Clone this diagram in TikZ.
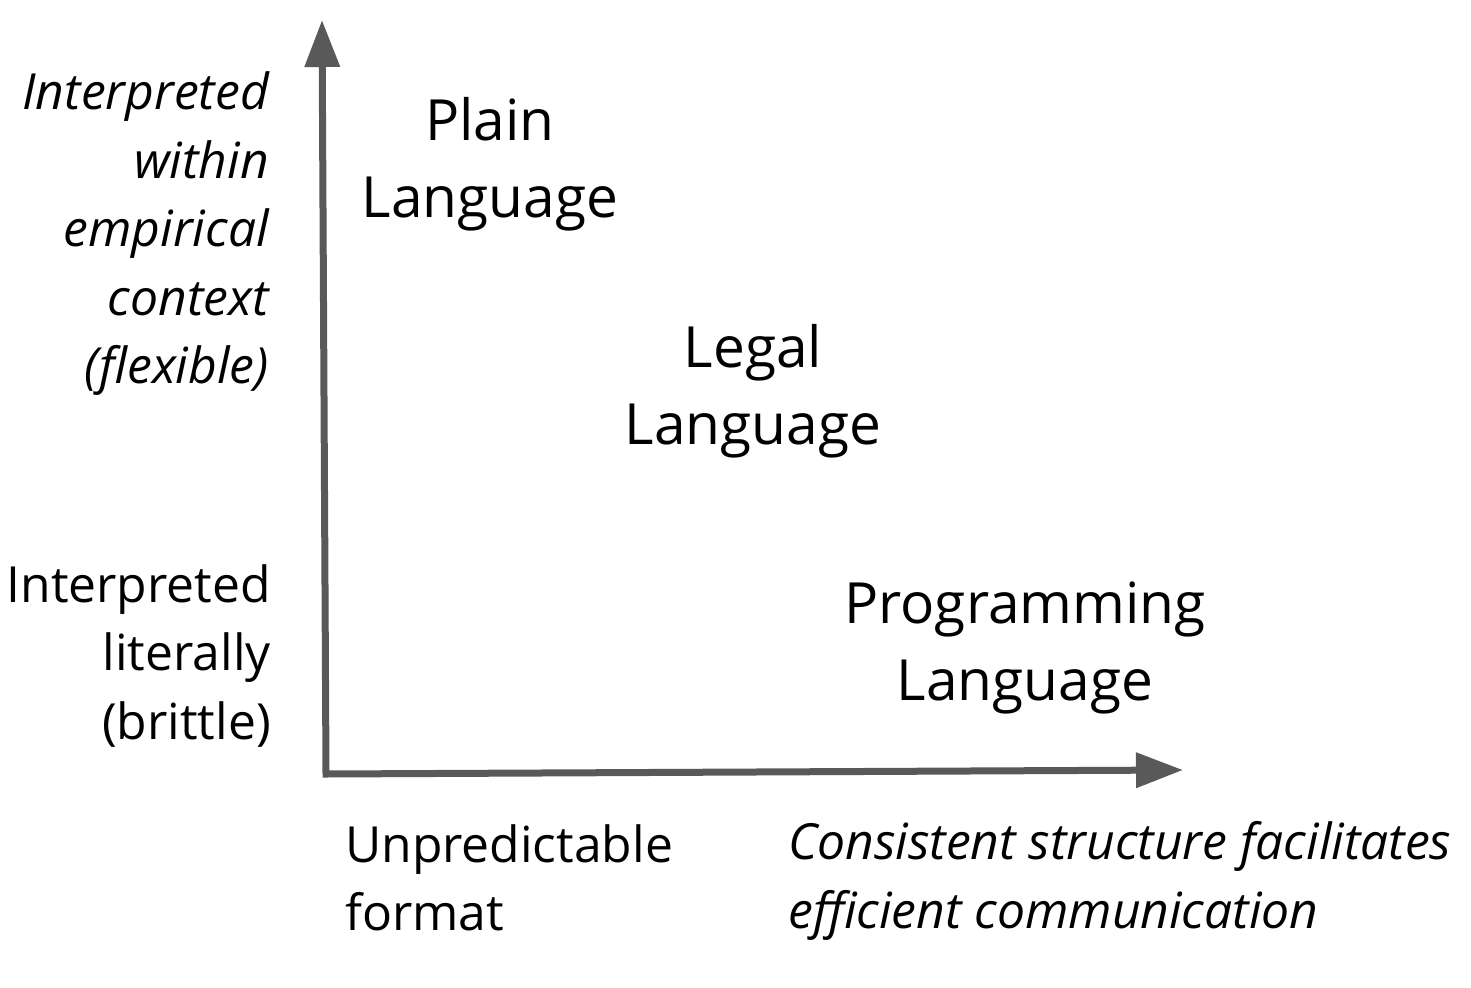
\documentclass[tikz,border=0pt]{standalone}
\usepackage{fontspec}
\setmainfont{Open Sans}
\usetikzlibrary{arrows.meta}
\definecolor{axisgray}{HTML}{595959}
\begin{document}
\begin{tikzpicture}[x=1pt,y=-1pt,
  axis/.style={draw=axisgray,line width=7pt,line join=miter,
    {Triangle[width=34pt,length=47pt]}-{Triangle[width=34pt,length=47pt]}},
  big/.style={font=\fontsize{56.8}{76.5}\selectfont,align=center,inner sep=0pt},
  lab/.style={font=\fontsize{49.8}{68.5}\selectfont,inner sep=0pt},
  ilab/.style={font=\fontsize{49.8}{68.5}\selectfont\itshape,inner sep=0pt}]
\useasboundingbox (0,0) rectangle (1471,987);
\coordinate (top) at (322,20);
\coordinate (origin) at (326,774);
\coordinate (right) at (1183,770);
\draw[axis] (top) -- (origin) -- (right);
\node[ilab,align=right,anchor=east] (flex) at (269,234) {Interpreted\\within\\empirical\\context\\(flexible)};
\node[lab,align=right,anchor=east] (brittle) at (271,656) {Interpreted\\literally\\(brittle)};
\node[big] (plain) at (490,164) {Plain\\Language};
\node[big] (legal) at (753,391) {Legal\\Language};
\node[big] (prog) at (1025,648) {Programming\\Language};
\node[lab,align=left,anchor=west] (unpred) at (345,878) {Unpredictable\\format};
\node[ilab,align=left,anchor=west] (consist) at (788,881) {Consistent structure facilitates\\efficient communication};
\end{tikzpicture}
\end{document}
